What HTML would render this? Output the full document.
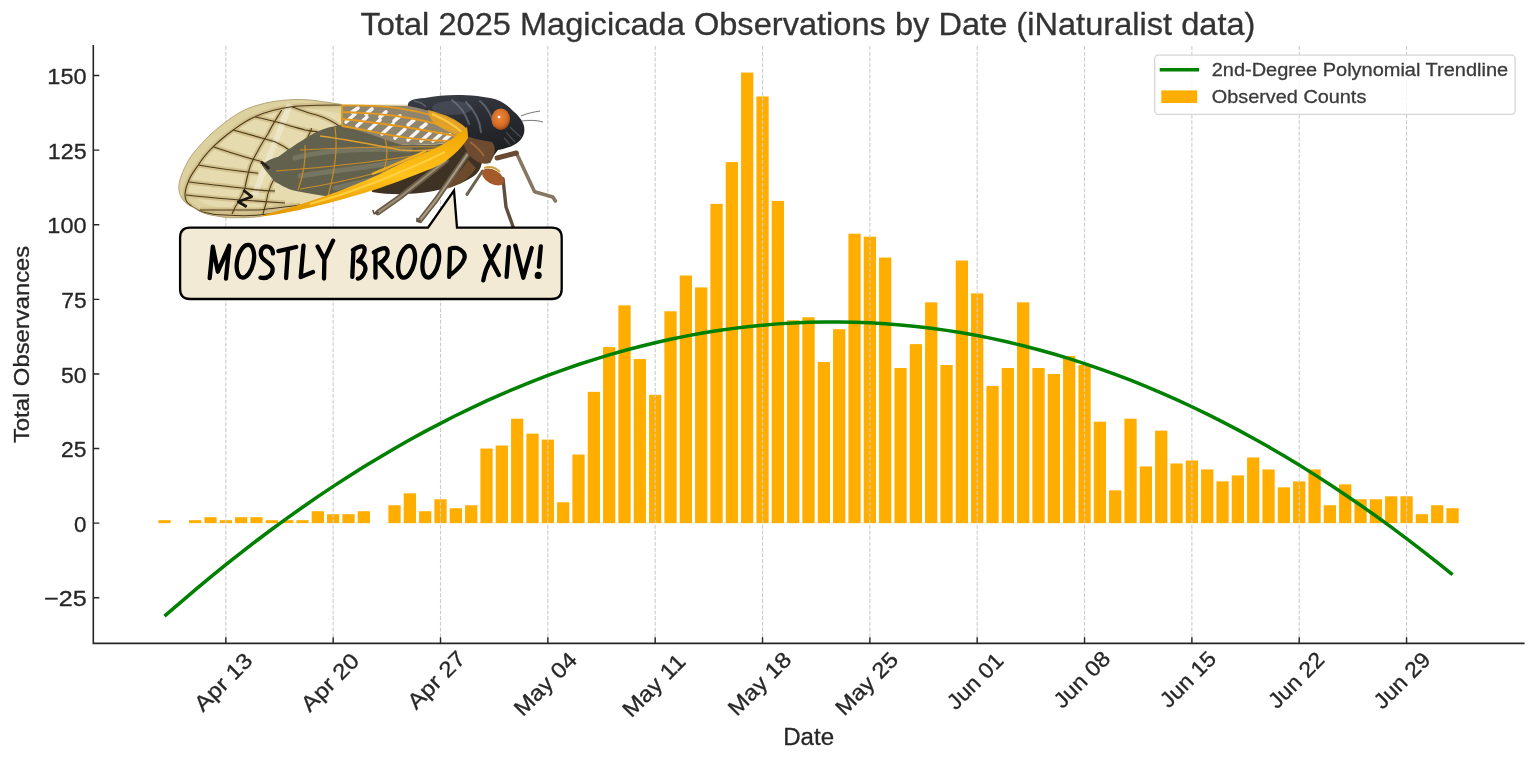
<!DOCTYPE html><html><head><meta charset="utf-8"><title>Magicicada Observations</title><style>html,body{margin:0;padding:0;background:#fff;width:1536px;height:762px;overflow:hidden}svg{display:block;will-change:transform}</style></head><body>
<svg width="1536" height="762" viewBox="0 0 1536 762" font-family="'Liberation Sans', sans-serif">
<style>text{stroke-width:0.3px;paint-order:stroke}</style>
<rect width="1536" height="762" fill="#ffffff"/>
<g fill="#ffae00"><rect x="158.37" y="520.17" width="12.27" height="2.98"/><rect x="189.03" y="520.17" width="12.27" height="2.98"/><rect x="204.37" y="517.18" width="12.27" height="5.97"/><rect x="219.70" y="520.17" width="12.27" height="2.98"/><rect x="235.04" y="517.18" width="12.27" height="5.97"/><rect x="250.37" y="517.18" width="12.27" height="5.97"/><rect x="265.70" y="520.17" width="12.27" height="2.98"/><rect x="281.04" y="520.17" width="12.27" height="2.98"/><rect x="296.37" y="520.17" width="12.27" height="2.98"/><rect x="311.71" y="511.21" width="12.27" height="11.94"/><rect x="327.04" y="514.20" width="12.27" height="8.95"/><rect x="342.37" y="514.20" width="12.27" height="8.95"/><rect x="357.71" y="511.21" width="12.27" height="11.94"/><rect x="388.38" y="505.25" width="12.27" height="17.90"/><rect x="403.71" y="493.31" width="12.27" height="29.84"/><rect x="419.04" y="511.21" width="12.27" height="11.94"/><rect x="434.38" y="499.28" width="12.27" height="23.87"/><rect x="449.71" y="508.23" width="12.27" height="14.92"/><rect x="465.05" y="505.25" width="12.27" height="17.90"/><rect x="480.38" y="448.55" width="12.27" height="74.60"/><rect x="495.71" y="445.57" width="12.27" height="77.58"/><rect x="511.05" y="418.71" width="12.27" height="104.44"/><rect x="526.38" y="433.63" width="12.27" height="89.52"/><rect x="541.72" y="439.60" width="12.27" height="83.55"/><rect x="557.05" y="502.26" width="12.27" height="20.89"/><rect x="572.38" y="454.52" width="12.27" height="68.63"/><rect x="587.72" y="391.85" width="12.27" height="131.30"/><rect x="603.05" y="347.09" width="12.27" height="176.06"/><rect x="618.39" y="305.32" width="12.27" height="217.83"/><rect x="633.72" y="359.03" width="12.27" height="164.12"/><rect x="649.05" y="394.84" width="12.27" height="128.31"/><rect x="664.39" y="311.29" width="12.27" height="211.86"/><rect x="679.72" y="275.48" width="12.27" height="247.67"/><rect x="695.06" y="287.41" width="12.27" height="235.74"/><rect x="710.39" y="203.86" width="12.27" height="319.29"/><rect x="725.72" y="162.09" width="12.27" height="361.06"/><rect x="741.06" y="72.57" width="12.27" height="450.58"/><rect x="756.39" y="96.44" width="12.27" height="426.71"/><rect x="771.73" y="200.88" width="12.27" height="322.27"/><rect x="787.06" y="320.24" width="12.27" height="202.91"/><rect x="802.39" y="317.25" width="12.27" height="205.90"/><rect x="817.73" y="362.01" width="12.27" height="161.14"/><rect x="833.06" y="329.19" width="12.27" height="193.96"/><rect x="848.40" y="233.70" width="12.27" height="289.45"/><rect x="863.73" y="236.69" width="12.27" height="286.46"/><rect x="879.06" y="257.57" width="12.27" height="265.58"/><rect x="894.40" y="367.98" width="12.27" height="155.17"/><rect x="909.73" y="344.11" width="12.27" height="179.04"/><rect x="925.07" y="302.33" width="12.27" height="220.82"/><rect x="940.40" y="365.00" width="12.27" height="158.15"/><rect x="955.73" y="260.56" width="12.27" height="262.59"/><rect x="971.07" y="293.38" width="12.27" height="229.77"/><rect x="986.40" y="385.89" width="12.27" height="137.26"/><rect x="1001.74" y="367.98" width="12.27" height="155.17"/><rect x="1017.07" y="302.33" width="12.27" height="220.82"/><rect x="1032.40" y="367.98" width="12.27" height="155.17"/><rect x="1047.74" y="373.95" width="12.27" height="149.20"/><rect x="1063.07" y="356.05" width="12.27" height="167.10"/><rect x="1078.41" y="365.00" width="12.27" height="158.15"/><rect x="1093.74" y="421.69" width="12.27" height="101.46"/><rect x="1109.07" y="490.33" width="12.27" height="32.82"/><rect x="1124.41" y="418.71" width="12.27" height="104.44"/><rect x="1139.74" y="466.45" width="12.27" height="56.70"/><rect x="1155.08" y="430.65" width="12.27" height="92.50"/><rect x="1170.41" y="463.47" width="12.27" height="59.68"/><rect x="1185.74" y="460.49" width="12.27" height="62.66"/><rect x="1201.08" y="469.44" width="12.27" height="53.71"/><rect x="1216.41" y="481.37" width="12.27" height="41.78"/><rect x="1231.75" y="475.41" width="12.27" height="47.74"/><rect x="1247.08" y="457.50" width="12.27" height="65.65"/><rect x="1262.41" y="469.44" width="12.27" height="53.71"/><rect x="1277.75" y="487.34" width="12.27" height="35.81"/><rect x="1293.08" y="481.37" width="12.27" height="41.78"/><rect x="1308.42" y="469.44" width="12.27" height="53.71"/><rect x="1323.75" y="505.25" width="12.27" height="17.90"/><rect x="1339.08" y="484.36" width="12.27" height="38.79"/><rect x="1354.42" y="499.28" width="12.27" height="23.87"/><rect x="1369.75" y="499.28" width="12.27" height="23.87"/><rect x="1385.09" y="496.29" width="12.27" height="26.86"/><rect x="1400.42" y="496.29" width="12.27" height="26.86"/><rect x="1415.75" y="514.20" width="12.27" height="8.95"/><rect x="1431.09" y="505.25" width="12.27" height="17.90"/><rect x="1446.42" y="508.23" width="12.27" height="14.92"/></g>
<g stroke="#cccccc" stroke-width="1.1" stroke-dasharray="3.95 1.75" stroke-dashoffset="4.5"><line x1="225.84" y1="44.90" x2="225.84" y2="643.35"/><line x1="333.17" y1="44.90" x2="333.17" y2="643.35"/><line x1="440.51" y1="44.90" x2="440.51" y2="643.35"/><line x1="547.85" y1="44.90" x2="547.85" y2="643.35"/><line x1="655.19" y1="44.90" x2="655.19" y2="643.35"/><line x1="762.53" y1="44.90" x2="762.53" y2="643.35"/><line x1="869.86" y1="44.90" x2="869.86" y2="643.35"/><line x1="977.20" y1="44.90" x2="977.20" y2="643.35"/><line x1="1084.54" y1="44.90" x2="1084.54" y2="643.35"/><line x1="1191.88" y1="44.90" x2="1191.88" y2="643.35"/><line x1="1299.22" y1="44.90" x2="1299.22" y2="643.35"/><line x1="1406.55" y1="44.90" x2="1406.55" y2="643.35"/></g>
<polyline points="164.50,616.20 195.17,589.81 210.50,577.08 225.84,564.66 241.17,552.56 256.50,540.76 271.84,529.27 287.17,518.09 302.51,507.22 317.84,496.66 333.17,486.41 348.51,476.47 363.84,466.84 394.51,448.50 409.84,439.80 425.18,431.41 440.51,423.33 455.85,415.55 471.18,408.09 486.51,400.94 501.85,394.09 517.18,387.56 532.52,381.34 547.85,375.42 563.18,369.82 578.52,364.52 593.85,359.54 609.19,354.86 624.52,350.50 639.85,346.44 655.19,342.70 670.52,339.26 685.86,336.13 701.19,333.32 716.52,330.81 731.86,328.61 747.19,326.73 762.53,325.15 777.86,323.88 793.19,322.92 808.53,322.27 823.86,321.93 839.20,321.91 854.53,322.19 869.86,322.78 885.20,323.68 900.53,324.89 915.87,326.41 931.20,328.24 946.53,330.38 961.87,332.82 977.20,335.58 992.54,338.65 1007.87,342.03 1023.20,345.72 1038.54,349.71 1053.87,354.02 1069.21,358.64 1084.54,363.57 1099.87,368.80 1115.21,374.35 1130.54,380.20 1145.88,386.37 1161.21,392.85 1176.54,399.63 1191.88,406.73 1207.21,414.13 1222.55,421.85 1237.88,429.87 1253.21,438.20 1268.55,446.85 1283.88,455.80 1299.22,465.06 1314.55,474.64 1329.88,484.52 1345.22,494.71 1360.55,505.21 1375.89,516.03 1391.22,527.15 1406.55,538.58 1421.89,550.32 1437.22,562.37 1452.56,574.73" fill="none" stroke="#008000" stroke-width="3.5" stroke-linejoin="round"/>
<path d="M93.30,44.90 V643.35 H1524.60" fill="none" stroke="#262626" stroke-width="1.6"/>
<path d="M93.30,597.75h6M93.30,523.15h6M93.30,448.55h6M93.30,373.95h6M93.30,299.35h6M93.30,224.75h6M93.30,150.15h6M93.30,75.55h6M225.84,643.35v-6M333.17,643.35v-6M440.51,643.35v-6M547.85,643.35v-6M655.19,643.35v-6M762.53,643.35v-6M869.86,643.35v-6M977.20,643.35v-6M1084.54,643.35v-6M1191.88,643.35v-6M1299.22,643.35v-6M1406.55,643.35v-6" stroke="#262626" stroke-width="1.4"/>
<text x="44.00" y="606.35" font-size="22.14" textLength="42.64" lengthAdjust="spacingAndGlyphs" fill="#262626" stroke="#262626">−25</text>
<text x="74.09" y="531.75" font-size="22.14" textLength="12.43" lengthAdjust="spacingAndGlyphs" fill="#262626" stroke="#262626">0</text>
<text x="61.13" y="457.15" font-size="22.14" textLength="25.44" lengthAdjust="spacingAndGlyphs" fill="#262626" stroke="#262626">25</text>
<text x="60.93" y="382.55" font-size="22.14" textLength="25.64" lengthAdjust="spacingAndGlyphs" fill="#262626" stroke="#262626">50</text>
<text x="61.24" y="307.95" font-size="22.14" textLength="25.32" lengthAdjust="spacingAndGlyphs" fill="#262626" stroke="#262626">75</text>
<text x="47.38" y="233.35" font-size="22.14" textLength="39.25" lengthAdjust="spacingAndGlyphs" fill="#262626" stroke="#262626">100</text>
<text x="47.82" y="158.75" font-size="22.14" textLength="38.79" lengthAdjust="spacingAndGlyphs" fill="#262626" stroke="#262626">125</text>
<text x="47.38" y="84.15" font-size="22.14" textLength="39.25" lengthAdjust="spacingAndGlyphs" fill="#262626" stroke="#262626">150</text>
<text x="203.12" y="712.69" font-size="21.86" textLength="71.66" lengthAdjust="spacingAndGlyphs" fill="#262626" stroke="#262626" transform="rotate(-45 203.12 712.69)">Apr 13</text>
<text x="309.89" y="712.93" font-size="21.86" textLength="71.87" lengthAdjust="spacingAndGlyphs" fill="#262626" stroke="#262626" transform="rotate(-45 309.89 712.93)">Apr 20</text>
<text x="416.20" y="710.62" font-size="21.86" textLength="71.68" lengthAdjust="spacingAndGlyphs" fill="#262626" stroke="#262626" transform="rotate(-45 416.20 710.62)">Apr 27</text>
<text x="522.69" y="717.13" font-size="21.86" textLength="78.93" lengthAdjust="spacingAndGlyphs" fill="#262626" stroke="#262626" transform="rotate(-45 522.69 717.13)">May 04</text>
<text x="631.20" y="718.62" font-size="21.86" textLength="78.73" lengthAdjust="spacingAndGlyphs" fill="#262626" stroke="#262626" transform="rotate(-45 631.20 718.62)">May 11</text>
<text x="736.84" y="716.98" font-size="21.86" textLength="78.96" lengthAdjust="spacingAndGlyphs" fill="#262626" stroke="#262626" transform="rotate(-45 736.84 716.98)">May 18</text>
<text x="844.16" y="716.66" font-size="21.86" textLength="78.50" lengthAdjust="spacingAndGlyphs" fill="#262626" stroke="#262626" transform="rotate(-45 844.16 716.66)">May 25</text>
<text x="955.81" y="711.00" font-size="21.86" textLength="69.36" lengthAdjust="spacingAndGlyphs" fill="#262626" stroke="#262626" transform="rotate(-45 955.81 711.00)">Jun 01</text>
<text x="1062.43" y="709.39" font-size="21.86" textLength="69.68" lengthAdjust="spacingAndGlyphs" fill="#262626" stroke="#262626" transform="rotate(-45 1062.43 709.39)">Jun 08</text>
<text x="1168.74" y="709.08" font-size="21.86" textLength="69.23" lengthAdjust="spacingAndGlyphs" fill="#262626" stroke="#262626" transform="rotate(-45 1168.74 709.08)">Jun 15</text>
<text x="1276.97" y="709.85" font-size="21.86" textLength="69.13" lengthAdjust="spacingAndGlyphs" fill="#262626" stroke="#262626" transform="rotate(-45 1276.97 709.85)">Jun 22</text>
<text x="1382.51" y="710.31" font-size="21.86" textLength="69.68" lengthAdjust="spacingAndGlyphs" fill="#262626" stroke="#262626" transform="rotate(-45 1382.51 710.31)">Jun 29</text>
<text x="360.49" y="34.80" font-size="31.16" textLength="894.99" lengthAdjust="spacingAndGlyphs" fill="#333333" stroke="#333333">Total 2025 Magicicada Observations by Date (iNaturalist data)</text>
<text x="783.17" y="744.60" font-size="23.91" textLength="50.87" lengthAdjust="spacingAndGlyphs" fill="#262626" stroke="#262626">Date</text>
<text x="29.50" y="443.10" font-size="22.61" textLength="197.37" lengthAdjust="spacingAndGlyphs" fill="#262626" stroke="#262626" transform="rotate(-90 29.50 443.10)">Total Observances</text>
<rect x="1154.7" y="55.2" width="360.4" height="59.1" rx="3.5" fill="#ffffff" fill-opacity="0.8" stroke="#d6d6d6" stroke-width="1.3"/>
<line x1="1159.7" y1="69.8" x2="1199.1" y2="69.8" stroke="#008000" stroke-width="3.5"/>
<rect x="1161.3" y="90.4" width="35.9" height="12.6" fill="#ffae00"/>
<text x="1211.70" y="76.30" font-size="19.28" textLength="296.45" lengthAdjust="spacingAndGlyphs" fill="#3a3a3a" stroke="#3a3a3a">2nd-Degree Polynomial Trendline</text>
<text x="1211.81" y="103.00" font-size="19.13" textLength="154.53" lengthAdjust="spacingAndGlyphs" fill="#3a3a3a" stroke="#3a3a3a">Observed Counts</text>
<g id="cicada">
<defs>
<linearGradient id="bandg" x1="0" y1="1" x2="0" y2="0">
<stop offset="0" stop-color="#e39600"/><stop offset="0.45" stop-color="#ffc21c"/><stop offset="1" stop-color="#f0a400"/>
</linearGradient>
<radialGradient id="eyeg" cx="0.45" cy="0.4" r="0.6">
<stop offset="0" stop-color="#ee8a3e"/><stop offset="0.7" stop-color="#d46a24"/><stop offset="1" stop-color="#9a4a18"/>
</radialGradient>
<linearGradient id="thog" x1="0" y1="0" x2="0.3" y2="1">
<stop offset="0" stop-color="#3a3e46"/><stop offset="0.6" stop-color="#25282d"/><stop offset="1" stop-color="#1e1f22"/>
</linearGradient>
<clipPath id="wclip"><path id="wingp" d="M342,104.5 C325,102 310,99 295,99.5 C278,100 262,103 248,108.4 C235,114 222,124 210,135 C198,147 190,156 185.6,165.7 C181,175 178,184 179,190 C180,198 185,204 193.4,207.4 C200,212 205,214 211.7,215.2 C222,217 228,218 235,217.8 C248,218 255,217 261,216.5 C275,214 285,212 295,210 C310,206 318,204 326,202 C345,197 355,193 365,189 C380,183 392,178 404,173.5 C418,167 428,163 438,158 C450,151 456,147 459,145 C463,141 465,138 465,134 C463,124 440,108 410,104.5 Z"/></clipPath>
</defs>
<!-- underside shadow below band -->
<path d="M372,187 C400,179 420,171 433,165 C450,157 460,147 468,135 L480,150 C484,160 482,170 474,176 C462,184 450,188 438,190 C420,194 396,196 372,192 Z" fill="#3e3224"/>
<path d="M444,184 C454,178 462,170 468,160 L476,168 C470,178 458,186 446,189 Z" fill="#7a5030" opacity="0.8"/>
<!-- forewing -->
<path d="M342,104.5 C325,102 310,99 295,99.5 C278,100 262,103 248,108.4 C235,114 222,124 210,135 C198,147 190,156 185.6,165.7 C181,175 178,184 179,190 C180,198 185,204 193.4,207.4 C200,212 205,214 211.7,215.2 C222,217 228,218 235,217.8 C248,218 255,217 261,216.5 C275,214 285,212 295,210 C310,206 318,204 326,202 C345,197 355,193 365,189 C380,183 392,178 404,173.5 C418,167 428,163 438,158 C450,151 456,147 459,145 C463,141 465,138 465,134 C463,124 440,108 410,104.5 Z" fill="#e6dbae"/>
<g clip-path="url(#wclip)">
<path d="M342,104.5 C325,102 310,99 295,99.5 C278,100 262,103 248,108.4 C235,114 222,124 210,135 C198,147 190,156 185.6,165.7 C181,175 178,184 179,190 C180,198 185,204 193.4,207.4 C200,212 205,214 211.7,215.2 C222,217 228,218 235,217.8 C248,218 255,217 261,216.5 C275,214 285,212 295,210" fill="none" stroke="#dccf9e" stroke-width="18" opacity="0.9"/>
<g fill="none" stroke="#c9b780" stroke-width="5" stroke-opacity="0.7">
<path d="M341.7,105 C320,105 305,105 291.7,106.7 C275,109 265,112 255,116.7 C245,121 240,125 233.3,130 C225,136 219,141 213.3,146.7 C207,153 202,159 198.3,165 C194,171 190,176 188.3,181.7 C186,187 185,191 185,195 C185,200 187,203 190,205 C194,209 197,210 201.7,211.7 C210,214 217,215 225,215 C240,216 250,216 258.3,215 C275,214 290,211 300,208"/><path d="M291.7,106.7 C300,110 310,114 316.7,115 C326,118 334,122 340,126.7"/><path d="M255,116.7 C265,119 273,121 281.7,123.3 C290,126 298,128 305,130 C310,131 314,131.5 318.3,131.7"/><path d="M233.3,130 C248,134 262,138 275,141.7 C282,145 287,148 291.7,151.7"/><path d="M213.3,146.7 C228,152 245,157 261.7,161.7"/><path d="M198.3,165 C215,168 238,171 258.3,173.3"/><path d="M188.3,181.7 C205,184 225,186 245,188.3 C255,190 265,191 275,191"/><path d="M186,195 C205,197 225,199 241.7,200 C255,201 270,202 285,203"/><path d="M200,210 C220,210 240,210 258.3,210 C270,209 285,207 300,205"/><path d="M281.7,110 C277,118 272,125 268.3,133.3 C264,140 261,145 258.3,150 C255,156 252,161 250,166.7 C248,174 246,181 245,188.3 C243,194 240,198 238.3,201.7 C236,205 234,209 232,214"/><path d="M311.7,128.3 C309,134 307,139 305,145 C300,152 290,160 280,170 C272,180 268,190 266,203 C265,207 264,210 263,214"/>
</g>
<path d="M290,104 C284,120 276,140 268,160 C262,175 258,185 255,195" fill="none" stroke="#f4f0e2" stroke-width="6" stroke-opacity="0.5"/>
<g fill="none" stroke="#4a3818" stroke-width="1.1">
<path d="M341.7,105 C320,105 305,105 291.7,106.7 C275,109 265,112 255,116.7 C245,121 240,125 233.3,130 C225,136 219,141 213.3,146.7 C207,153 202,159 198.3,165 C194,171 190,176 188.3,181.7 C186,187 185,191 185,195 C185,200 187,203 190,205 C194,209 197,210 201.7,211.7 C210,214 217,215 225,215 C240,216 250,216 258.3,215 C275,214 290,211 300,208"/><path d="M291.7,106.7 C300,110 310,114 316.7,115 C326,118 334,122 340,126.7"/><path d="M255,116.7 C265,119 273,121 281.7,123.3 C290,126 298,128 305,130 C310,131 314,131.5 318.3,131.7"/><path d="M233.3,130 C248,134 262,138 275,141.7 C282,145 287,148 291.7,151.7"/><path d="M213.3,146.7 C228,152 245,157 261.7,161.7"/><path d="M198.3,165 C215,168 238,171 258.3,173.3"/><path d="M188.3,181.7 C205,184 225,186 245,188.3 C255,190 265,191 275,191"/><path d="M186,195 C205,197 225,199 241.7,200 C255,201 270,202 285,203"/><path d="M200,210 C220,210 240,210 258.3,210 C270,209 285,207 300,205"/><path d="M281.7,110 C277,118 272,125 268.3,133.3 C264,140 261,145 258.3,150 C255,156 252,161 250,166.7 C248,174 246,181 245,188.3 C243,194 240,198 238.3,201.7 C236,205 234,209 232,214"/><path d="M311.7,128.3 C309,134 307,139 305,145 C300,152 290,160 280,170 C272,180 268,190 266,203 C265,207 264,210 263,214"/>
</g>
</g>
<path d="M342,104.5 C325,102 310,99 295,99.5 C278,100 262,103 248,108.4 C235,114 222,124 210,135 C198,147 190,156 185.6,165.7 C181,175 178,184 179,190 C180,198 185,204 193.4,207.4 C200,212 205,214 211.7,215.2 C222,217 228,218 235,217.8 C248,218 255,217 261,216.5" fill="none" stroke="#a8966a" stroke-width="1" opacity="0.8"/>
<!-- dark central area -->
<path d="M261.7,165 C268,160 273,158 278.3,156.7 C290,148 305,138 316.7,131.7 C325,128 334,126 341.7,125 C370,132 390,140 402,144.6 C425,146 445,144 459,141 C452,150 442,157 430,163 C415,170 405,176 391,181.4 C375,187 365,190 352,194.4 C340,197 332,197 325,196 C312,194 300,192 291.7,190 C284,187 279,184 275,181.7 C270,176 265,170 261.7,165 Z" fill="#62614d"/>
<g fill="none" stroke="#8f8f7d" stroke-width="5" stroke-opacity="0.45" stroke-linecap="round">
<path d="M295,158 C325,150 360,148 410,150"/>
<path d="M300,176 C335,170 370,168 420,158"/>
<path d="M335,188 C362,182 390,176 430,165"/>
</g>
<!-- orange veins in dark area -->
<g fill="none" stroke="#c98c26" stroke-width="1.2">
<path d="M300,150 C340,148 390,146 443,147"/>
<path d="M276,171 C320,168 380,162 450,150"/>
<path d="M300,189 C345,182 395,170 455,148"/>
<path d="M335,127 C338,150 334,175 328,196"/>
<path d="M385,138 C390,158 385,175 372,186"/>
<path d="M305,145 C306,160 303,176 298,190"/>
</g>
<path d="M243.3,190 L251.7,196.7 L238.3,201.7 L246.7,206.7" fill="none" stroke="#1a1610" stroke-width="2.8" stroke-linejoin="round"/>
<path d="M261,162 C264,164 267,166 269,169" fill="none" stroke="#2a2418" stroke-width="3"/>
<!-- upper orange zone -->
<path d="M342,105 L410,106 C425,109 445,116 465,128 L459,141 C430,146 400,145 400,144.6 C380,138 360,130 342,126 C341,118 341,111 342,105 Z" fill="#8f846e"/>
<g fill="none" stroke="#ffffff" stroke-width="3.6" stroke-opacity="0.92" stroke-linecap="round">
<path d="M346,122 l9,-8 M357,126 l10,-9 M369,130 l11,-10 M382,134 l11,-10 M395,138 l10,-9 M408,140 l10,-9 M421,141 l9,-8 M433,141 l8,-7 M444,140 l6,-5"/>
<path d="M352,112 l6,-4 M366,114 l6,-5 M380,117 l6,-5 M394,121 l6,-5 M408,125 l6,-5 M421,128 l5,-4"/>
</g>
<g fill="none" stroke="#e39a1e" stroke-width="1.8">
<path d="M342,105.5 C380,105 420,107 465,128"/>
<path d="M342,112 C385,113 425,118 462,132"/>
<path d="M342,119 C385,123 425,130 461,137"/>
<path d="M342,126 C380,132 410,142 459,141"/>
<path d="M342,105 L342,126"/>
</g>
<path d="M320,136 C350,140 380,146 400,150 C420,152 440,150 459,144" fill="none" stroke="#e0a030" stroke-width="1.6"/>
<!-- hind legs -->
<g fill="none" stroke-linecap="round" stroke-linejoin="round">
<path d="M446,160.5 L400,197 L378,212.6" stroke="#6a5c48" stroke-width="5.5"/>
<path d="M446,160.5 L400,197 L378,212.6" stroke="#9c8e74" stroke-width="2.2"/>
<path d="M467,155 L436,200 L420,220.4" stroke="#6a5c48" stroke-width="5.5"/>
<path d="M467,155 L436,200 L420,220.4" stroke="#a89a80" stroke-width="2.2"/>
<path d="M378,212.6 l-4,1 M374,213.6 l-1,-3 M420,220.4 l-3,1 M417,221.4 l0,-3" stroke="#5a5040" stroke-width="1.6"/>
</g>
<!-- thorax/head -->
<path d="M408,106 C407,101 413,98.5 424.6,98 C435,96 445,95 456.5,95 C470,95 485,96.5 495.5,99.3 C503,102 508,106 512,110 C518,115 522.5,120 524,126 C525.5,133 523,140 513.8,145 C508,148 503,149 498,150 C494,155 492,158 490,163 C482,164 474,158 469.5,150 C466,145 468,136 467,129 C455,120 435,111 408,106 Z" fill="url(#thog)"/>
<path d="M461,134 C470,138 480,140 492,142 C496,146 496,154 490,163 C482,166 472,160 467,152 C464,146 462,140 461,134 Z" fill="#6e4a30"/>
<path d="M470,142 C476,146 480,150 484,156" fill="none" stroke="#a87040" stroke-width="2" opacity="0.8"/>
<path d="M428,110 C445,114 458,120 466,128 L468,138 C458,136 448,132 438,126 C432,122 428,116 428,110 Z" fill="#e8a424" opacity="0.9"/>
<path d="M432,114 C446,120 456,126 464,134" fill="none" stroke="#ffc844" stroke-width="2"/>
<!-- yellow costal band -->
<path d="M262,216.5 C290,213 330,204 380,188 C400,181 420,173 433,168 C450,160 460,150 468,138 L467,127 C455,138 442,146 427,152 C410,159 395,166 380,174 C345,190 305,204 262,215.5 Z" fill="url(#bandg)"/>
<path d="M310,204 C350,193 395,176 445,152" fill="none" stroke="#ffd448" stroke-width="2.2" opacity="0.85"/>
<path d="M372,174 C392,166 410,158 426,151" fill="none" stroke="#f0b020" stroke-width="2.2"/>
<ellipse cx="452" cy="108" rx="20" ry="7" fill="#5a6070" opacity="0.45"/>
<path d="M466,102 C474,110 480,120 481,132 M480,101 C488,108 492,116 494,126 M452,100 C460,106 466,114 469,124" fill="none" stroke="#7a808c" stroke-width="2" stroke-opacity="0.6" stroke-linecap="round"/>
<path d="M414,101 C420,102 424,104 426,107" fill="none" stroke="#5a5e66" stroke-width="1.6"/>
<path d="M506,132 C510,137 513,140 515,142 M510,127 C515,132 518,135 521,137 M504,138 C507,141 509,143 510,145" fill="none" stroke="#4c5058" stroke-width="1.1"/>
<ellipse cx="500.8" cy="119.2" rx="9.2" ry="10.8" fill="url(#eyeg)"/>
<circle cx="499" cy="117" r="1.3" fill="#fff"/>
<path d="M521,116 C528,113 534,112 540,111 M522,121 C530,120 536,120 543,122" fill="none" stroke="#666" stroke-width="0.9"/>
<!-- front legs -->
<g fill="none" stroke-linecap="round" stroke-linejoin="round">
<path d="M497,158 L516.4,153 L534.6,191.8 L552.8,197 L555.4,200.9" stroke="#857760" stroke-width="3.6"/>
<path d="M497,158 L516.4,153" stroke="#6a4a32" stroke-width="5"/>
<path d="M482.5,171 L467,194.4" stroke="#6e6250" stroke-width="3"/>
<path d="M503,178.7 L506,207 L516.4,236" stroke="#5e4e3e" stroke-width="3.4"/>
</g>
<ellipse cx="493" cy="177" rx="12" ry="7" fill="#a45a2a" transform="rotate(30 493 177)"/>
<path d="M484,168 C490,166 496,168 500,172" fill="none" stroke="#d0a040" stroke-width="2"/>
<!-- speech bubble -->
<path d="M190,227.7 H428 L454,190.5 L457,227.7 H551.7 Q561.7,227.7 561.7,237.7 V289 Q561.7,299 551.7,299 H190 Q180.1,299 180.1,289 V237.7 Q180.1,227.7 190,227.7 Z" fill="#f3ead5" stroke="#000" stroke-width="2.3" stroke-linejoin="miter"/>
<g fill="none" stroke="#000" stroke-width="4.3" stroke-linecap="round" stroke-linejoin="round" role="img" aria-label="MOSTLY BROOD XIV!">
<path d="M209.7,278 L212.8,246.6 L217.8,271.7 L229.2,245.7 L226,278.5"/>
<ellipse cx="245.4" cy="261.2" rx="8.2" ry="16.6" transform="rotate(12 245.4 261.2)"/>
<path d="M272.9,253.4 C273,248 268,245.6 265,246.6 C261,248 259.5,253 262,257.5 C264,261 271,263 272.5,268 C273.5,274 268,279.5 260.5,277.6"/>
<path d="M278.4,251.1 L296.2,247 M288,250.2 L286.1,278"/>
<path d="M303.5,245.7 L300.7,277.1 L313,272.1"/>
<path d="M317.6,246.6 L324.4,259.3 L333.1,240.7 M324.4,259.3 L324,278.5"/>
<path d="M353.5,249.8 L352.3,276.9 M353,250 C356,248 360,245.5 363,246.5 C366.5,248.5 364,256 358.2,261.2 C364,262 366.5,267 365,271 C363.5,276 360,279 357.8,278.6"/>
<path d="M375.5,251.5 L375.5,277.7 M373.9,252.3 C377,250.5 381.5,248 384.9,248.1 C388,249 388.5,254 386,257.5 C384,260.5 381.5,262.5 379.8,263.3 L392,276.9"/>
<ellipse cx="406.6" cy="261.8" rx="7.8" ry="16.2" transform="rotate(13 406.6 261.8)"/>
<ellipse cx="430.8" cy="261.5" rx="7.8" ry="16.3" transform="rotate(12 430.8 261.5)"/>
<path d="M450,248.9 L449.2,276.9 M450,249 C452,248 455,247.6 457.5,248.2 C463,250 465.5,254.5 464.4,258.5 C462.5,265 457,270 449.5,275.5"/>
<path d="M485.2,246.1 C489,256 494,266 498.9,275 M498.9,245.3 C494,254 489,262 486,270 C484.5,274 484,277 483.3,280.4"/>
<path d="M508.8,247.2 L506.6,276.9"/>
<path d="M515.3,245.7 L523.3,277.7 L531.7,248"/>
<path d="M540.8,246.5 L538.9,266.7"/>
<circle cx="538.2" cy="275.4" r="1.4" fill="#000"/>
</g>
</g>

</svg></body></html>
